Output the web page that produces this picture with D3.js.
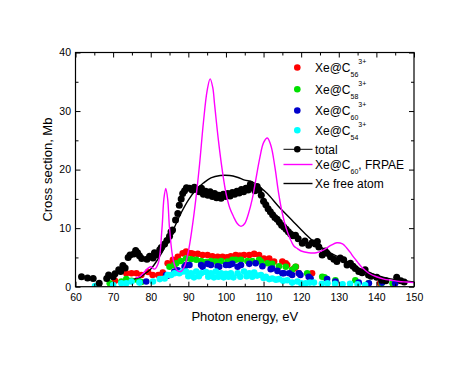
<!DOCTYPE html>
<html>
<head>
<meta charset="utf-8">
<script src="https://cdn.jsdelivr.net/npm/d3@7"></script>
<style>
  html, body { margin: 0; padding: 0; background: #fff; }
  svg { display: block; font-family: "Liberation Sans", Arial, sans-serif; }
</style>
</head>
<body>
<svg id="chart" width="474" height="365"></svg>
<script>
// ---------------- data ----------------
const xTicks = [60, 70, 80, 90, 100, 110, 120, 130, 140, 150];
const yTicks = [0, 10, 20, 30, 40];
const xLabel = "Photon energy, eV";
const yLabel = "Cross section, Mb";

// Xe@C56 3+ (red)
const c56 = [[70.5,1.0],[73.5,2.3],[74.9,2.3],[76.2,2.3],[77.5,2.0],[79.3,2.5],[80.5,2.0],[82.0,2.0],[83.2,2.4],
  [84.5,4.0],[85.4,3.7],[85.9,4.6],[86.5,4.3],[87.2,5.1],[88.5,5.7],[89.4,6.0],[89.8,5.8],[90.7,5.7],[91.2,5.6],
  [92.5,5.6],[93.8,5.4],[95.1,5.4],[96.4,5.2],[97.8,5.1],[99.1,5.1],[100.3,5.0],[101.3,5.2],[102.6,5.4],[103.7,5.3],
  [104.8,5.4],[106.2,5.4],[107.5,5.6],[108.8,5.4],[110.1,4.8],[111.5,4.8],[112.8,4.3],[115.0,4.3],[115.9,4.0],
  [116.3,3.7],[118.1,3.1],[118.6,3.4],[119.4,2.3],[122.9,2.3],[141.0,0.6],[144.5,0.5]];
// Xe@C58 3+ (green)
const c58 = [[69.1,0.6],[72.2,0.9],[73.5,1.3],[74.9,1.0],[76.6,1.1],[77.5,0.8],[85.0,3.4],[86.3,3.7],[86.8,4.0],
  [88.0,4.4],[89.4,4.8],[90.7,4.7],[92.1,4.6],[93.4,4.4],[94.7,4.2],[96.0,4.4],[97.3,4.3],[98.7,4.4],[100.4,4.3],
  [101.7,4.6],[102.6,4.6],[104.0,4.6],[105.7,4.4],[107.0,4.4],[108.8,4.6],[109.3,4.3],[111.0,4.0],[112.3,3.9],
  [114.1,3.5],[115.9,3.4],[117.6,2.9],[118.5,3.4],[121.6,2.3],[125.6,1.7],[126.2,1.6],[129.1,1.1],[134.4,1.1],
  [137.9,0.6],[141.4,0.6],[144.3,0.6]];
// Xe@C60 3+ (blue)
const c60 = [[78.8,0.9],[84.1,2.0],[84.6,1.9],[86.3,2.6],[87.2,2.8],[89.0,3.4],[89.4,3.7],[90.3,3.7],[93.4,3.7],
  [93.8,3.4],[95.1,3.9],[96.0,3.7],[97.8,3.5],[98.2,3.4],[100.0,3.7],[100.9,3.7],[101.7,3.9],[103.1,3.4],[104.0,3.7],
  [106.2,3.9],[107.9,4.0],[109.7,3.5],[111.9,3.0],[112.3,3.1],[113.7,2.7],[115.0,2.3],[115.4,2.3],[116.8,2.3],
  [117.6,2.0],[119.4,2.3],[119.8,2.0],[122.0,1.7],[122.5,1.4],[126.9,1.3],[129.1,0.9],[135.3,0.7],[138.0,0.6],
  [141.5,0.7],[145.0,0.6]];
// Xe@C54 3+ (cyan)
const c54 = [[65.2,0.1],[70.0,0.3],[72.2,0.6],[73.5,0.6],[74.9,0.9],[77.0,0.7],[80.6,0.9],[82.4,1.3],[83.7,1.4],
  [84.5,2.0],[85.4,2.0],[86.3,2.3],[87.6,2.3],[88.5,2.6],[89.4,2.6],[90.0,1.8],[90.7,2.3],[91.5,1.6],[92.1,2.6],
  [92.8,1.8],[93.4,2.3],[94.7,2.5],[95.3,1.7],[96.0,2.3],[96.8,1.6],[97.3,2.6],[98.0,1.7],[98.7,2.3],[99.4,1.6],
  [100.0,2.2],[100.7,1.7],[101.3,2.3],[102.0,1.6],[103.1,2.3],[103.8,1.7],[104.8,2.6],[105.5,1.8],[106.2,2.3],
  [107.0,1.7],[107.5,2.4],[108.3,1.9],[109.3,2.0],[110.0,1.5],[110.6,1.7],[111.5,1.3],[112.3,1.4],[113.3,1.2],
  [114.1,1.3],[115.2,1.0],[116.3,1.1],[117.6,0.7],[119.0,0.9],[120.0,0.6],[121.2,0.6],[122.3,0.7],[123.4,0.7],
  [125.5,0.5],[127.0,0.6],[129.0,0.5],[131.0,0.4],[133.0,0.5],[135.0,0.4],[137.0,0.3]];
// total (black)
const total = [[61.6,1.7],[63.2,1.5],[64.7,1.4],[66.3,0.6],[68.3,1.4],[68.8,2.0],[70.0,1.7],[70.5,2.2],[71.5,2.9],
  [72.0,2.6],[72.6,3.6],[73.2,3.2],[74.0,5.0],[74.5,5.4],[75.5,5.6],[76.0,6.2],[76.5,5.8],[77.0,5.3],[77.6,4.8],
  [79.0,4.7],[79.7,5.2],[80.6,4.9],[81.0,5.8],[81.6,5.4],[82.4,6.3],[82.8,6.7],[83.7,7.3],[84.3,7.9],[85.0,8.6],
  [85.4,9.4],[85.8,9.7],[86.6,11.4],[87.2,12.5],[87.6,13.9],[88.1,15.0],[88.5,15.9],[89.0,16.4],[89.5,16.9],
  [90.3,16.8],[91.0,16.5],[91.6,17.0],[92.2,16.6],[92.9,16.2],[93.5,16.8],[94.0,15.8],[94.6,16.3],[95.2,15.6],
  [95.8,16.2],[96.4,15.4],[97.0,15.9],[97.5,15.2],[98.1,15.6],[98.7,15.1],[99.3,15.8],[99.9,15.4],[100.5,15.9],
  [101.1,15.5],[101.7,16.1],[102.3,15.8],[102.9,16.3],[103.5,16.0],[104.1,16.6],[104.7,16.2],[105.3,16.8],
  [105.9,16.5],[106.5,17.5],[107.1,16.9],[107.7,16.4],[108.3,17.1],[108.8,16.5],[109.4,15.6],[110.0,14.6],
  [110.6,14.0],[111.2,13.3],[111.8,12.8],[112.4,12.3],[113.0,11.8],[113.6,11.5],[114.2,11.0],[114.8,10.5],
  [115.4,10.2],[116.0,9.8],[116.6,9.4],[117.2,9.0],[117.8,8.7],[118.5,8.8],[119.2,8.2],[120.3,7.4],[121.0,7.8],
  [122.0,7.1],[122.9,7.5],[123.8,7.3],[124.3,7.7],[124.7,6.8],[125.6,5.4],[126.4,6.1],[126.9,5.7],[127.8,5.1],
  [128.7,4.7],[129.5,4.3],[130.4,4.9],[131.3,4.6],[132.2,3.7],[133.1,4.0],[133.8,3.5],[134.4,3.1],[135.3,2.6],
  [136.2,2.4],[137.0,2.9],[137.9,2.0],[138.6,1.8],[140.1,1.6],[141.4,1.1],[142.5,1.0],[145.4,1.6],[146.5,1.0],
  [147.4,0.8]];
// Xe@C60, FRPAE (magenta line)
const frpae = [[76,1.5],[77,1.7],[78,2.3],[79,3.0],[80,3.4],[81,3.0],[82,4.0],[83,10],[83.5,15],[84,16.8],
  [84.5,15],[85,10],[86,4.5],[87,2.8],[88,2.6],[89,3.5],[90,6],[91,10],[92,15],[93,21],[94,28],[95,33.5],
  [95.8,35.5],[96.5,34],[97,31],[98,25],[99,20],[100,16],[101,13.5],[102,12],[103,10.8],[104,10.3],[105,10.8],
  [106,12.5],[107,15],[108,18.5],[109,22],[110,24.6],[111,25.4],[112,24],[113,20.5],[114,16],[115,12.5],[116,10],
  [117,8.3],[118,7],[119,6.5],[120,6.1],[122,5.8],[124,5.8],[126,6.3],[128,7.1],[129.5,7.5],[131,7.3],[132,6.7],
  [133,5.9],[134,5.0],[135,4.2],[136,3.4],[137,2.8],[138,2.3],[140,1.7],[142,1.3],[144,1.1],[146,0.9],[148,0.8],
  [150,0.7]];
// Xe free atom (black line)
const freeAtom = [[75.5,1.3],[77,1.6],[78,2.0],[80,3.0],[82,4.8],[84,7.0],[86,9.7],[88,12.5],[90,14.8],[92,16.5],
  [94,17.7],[96,18.6],[98.5,19.0],[101,19.0],[103,18.7],[105,18.2],[107,17.9],[109,17.0],[111,15.9],[114,13.7],
  [117.5,11.4],[121,9.1],[124.5,7.1],[128,5.7],[131.5,4.6],[135,3.3],[138.5,2.3],[142,1.6],[146,1.1],[150,0.8]];

const legendLabels = ["56", "58", "60", "54"];
const colors = { c56: "#ff0000", c58: "#00e000", c60: "#0000cc", c54: "#00ffff", total: "#000000",
                 frpae: "#ff00ff", free: "#000000" };

// ---------------- chart ----------------
const svg = d3.select("#chart");
const L = 75.5, R = 414, T = 52.5, B = 286.7;
const x = d3.scaleLinear().domain([60, 150]).range([L, R]);
const y = d3.scaleLinear().domain([0, 40]).range([B, T]);

svg.append("defs").append("clipPath").attr("id", "clip")
  .append("rect").attr("x", L).attr("y", T).attr("width", R - L).attr("height", B - T);

const plot = svg.append("g").attr("clip-path", "url(#clip)");

function dots(data, color, r) {
  plot.append("g").selectAll("circle").data(data).join("circle")
    .attr("cx", d => x(d[0])).attr("cy", d => y(d[1])).attr("r", r).attr("fill", color);
}
dots(c56, colors.c56, 3.3);
dots(c58, colors.c58, 3.3);
dots(c60, colors.c60, 3.3);
dots(c54, colors.c54, 3.3);
dots(total, colors.total, 3.5);

const line = d3.line().x(d => x(d[0])).y(d => y(d[1])).curve(d3.curveCatmullRom.alpha(0.5));
plot.append("path").datum(freeAtom).attr("d", line).attr("fill", "none")
  .attr("stroke", colors.free).attr("stroke-width", 1.4);
plot.append("path").datum(frpae).attr("d", line).attr("fill", "none")
  .attr("stroke", colors.frpae).attr("stroke-width", 1.4);

// axes
const minorX = d3.range(65, 150, 10);
const minorY = d3.range(5, 40, 10);
const fontTick = 10.5;

const gx = svg.append("g").attr("transform", `translate(0,${B})`)
  .call(d3.axisBottom(x).tickValues(xTicks).tickSize(-5).tickSizeOuter(0).tickPadding(6.5));
gx.selectAll("text").attr("font-size", fontTick).attr("font-family", "Liberation Sans, Arial, sans-serif").attr("fill", "#000");
svg.append("g").attr("transform", `translate(0,${B})`)
  .call(d3.axisBottom(x).tickValues(minorX).tickSize(-3).tickSizeOuter(0).tickFormat(""));
svg.append("g").attr("transform", `translate(0,${T})`)
  .call(d3.axisTop(x).tickValues(xTicks).tickSize(-5).tickSizeOuter(0).tickFormat(""));
svg.append("g").attr("transform", `translate(0,${T})`)
  .call(d3.axisTop(x).tickValues(minorX).tickSize(-3).tickSizeOuter(0).tickFormat(""));

const gy = svg.append("g").attr("transform", `translate(${L},0)`)
  .call(d3.axisLeft(y).tickValues(yTicks).tickSize(-5).tickSizeOuter(0).tickPadding(4.5));
gy.selectAll("text").attr("font-size", fontTick).attr("font-family", "Liberation Sans, Arial, sans-serif").attr("fill", "#000");
svg.append("g").attr("transform", `translate(${L},0)`)
  .call(d3.axisLeft(y).tickValues(minorY).tickSize(-3).tickSizeOuter(0).tickFormat(""));
svg.append("g").attr("transform", `translate(${R},0)`)
  .call(d3.axisRight(y).tickValues(yTicks).tickSize(-5).tickSizeOuter(0).tickFormat(""));
svg.append("g").attr("transform", `translate(${R},0)`)
  .call(d3.axisRight(y).tickValues(minorY).tickSize(-3).tickSizeOuter(0).tickFormat(""));

svg.selectAll(".domain").remove();
svg.selectAll(".tick line").attr("stroke", "#000").attr("stroke-width", 1);

svg.append("rect").attr("x", L).attr("y", T).attr("width", R - L).attr("height", B - T)
  .attr("fill", "none").attr("stroke", "#000").attr("stroke-width", 1.2);

// axis titles
svg.append("text").attr("x", (L + R) / 2).attr("y", 321).attr("text-anchor", "middle")
  .attr("font-size", 13).text(xLabel);
svg.append("text").attr("transform", `translate(52,${(T + B) / 2}) rotate(-90)`).attr("text-anchor", "middle")
  .attr("font-size", 13).text(yLabel);

// legend
const lg = svg.append("g");
const rowsY = [67.5, 89.3, 110.5, 130.3];
const rowColors = [colors.c56, colors.c58, colors.c60, colors.c54];
rowsY.forEach((ry, i) => {
  lg.append("circle").attr("cx", 297.3).attr("cy", ry).attr("r", 3.3).attr("fill", rowColors[i]);
  const t = lg.append("text").attr("x", 315).attr("y", ry + 4.3).attr("font-size", 12);
  t.append("tspan").text("Xe@C");
  t.append("tspan").attr("font-size", 7).attr("dy", 5.3).text(legendLabels[i]);
  t.append("tspan").attr("font-size", 7).attr("dy", -13).text("3+");
});
// total
lg.append("line").attr("x1", 283.5).attr("x2", 312.5).attr("y1", 149.3).attr("y2", 149.3)
  .attr("stroke", "#000").attr("stroke-width", 1);
lg.append("circle").attr("cx", 297.3).attr("cy", 149.3).attr("r", 3.3).attr("fill", "#000");
lg.append("text").attr("x", 315).attr("y", 153.6).attr("font-size", 12).text("total");
// FRPAE
lg.append("line").attr("x1", 283.5).attr("x2", 312.5).attr("y1", 164.5).attr("y2", 164.5)
  .attr("stroke", colors.frpae).attr("stroke-width", 1.4);
const tf = lg.append("text").attr("x", 315).attr("y", 168.8).attr("font-size", 12);
tf.append("tspan").text("Xe@C");
tf.append("tspan").attr("font-size", 7).attr("dy", 5.3).text("60");
tf.append("tspan").attr("dy", -5.3).text(", FRPAE");
// free atom
lg.append("line").attr("x1", 283.5).attr("x2", 312.5).attr("y1", 183.5).attr("y2", 183.5)
  .attr("stroke", "#000").attr("stroke-width", 1.4);
lg.append("text").attr("x", 315).attr("y", 187.8).attr("font-size", 12).text("Xe free atom");
</script>
</body>
</html>
